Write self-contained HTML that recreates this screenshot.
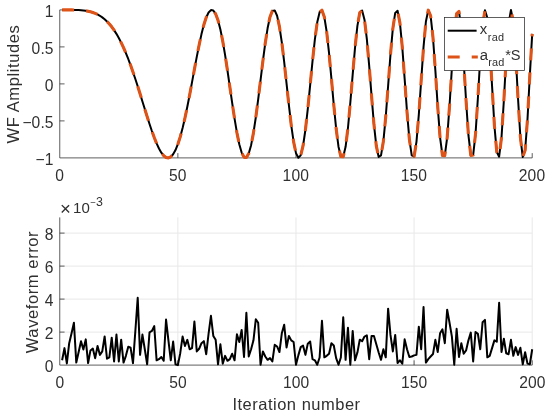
<!DOCTYPE html>
<html><head><meta charset="utf-8"><title>Waveform plot</title>
<style>html,body{margin:0;padding:0;background:#fff;}svg{display:block;}text{font-family:"Liberation Sans", sans-serif;fill:#303030;}</style></head><body>
<svg width="550" height="415" viewBox="0 0 550 415">
<rect x="0" y="0" width="550" height="415" fill="#ffffff"/>
<g stroke="#e8e8e8" stroke-width="1" fill="none"><line x1="177.87" y1="217.40" x2="177.87" y2="365.10"/><line x1="295.98" y1="217.40" x2="295.98" y2="365.10"/><line x1="414.09" y1="217.40" x2="414.09" y2="365.10"/><line x1="532.21" y1="217.40" x2="532.21" y2="365.10"/><line x1="59.75" y1="332.10" x2="532.21" y2="332.10"/><line x1="59.75" y1="299.10" x2="532.21" y2="299.10"/><line x1="59.75" y1="266.10" x2="532.21" y2="266.10"/><line x1="59.75" y1="233.10" x2="532.21" y2="233.10"/></g>
<g stroke="#2a2a2a" stroke-width="0.75" fill="none"><path d="M59.75 9.90 V157.90 H532.21"/><line x1="177.87" y1="157.90" x2="177.87" y2="153.10"/><line x1="295.98" y1="157.90" x2="295.98" y2="153.10"/><line x1="414.09" y1="157.90" x2="414.09" y2="153.10"/><line x1="532.21" y1="157.90" x2="532.21" y2="153.10"/><line x1="59.75" y1="120.90" x2="64.55" y2="120.90"/><line x1="59.75" y1="83.90" x2="64.55" y2="83.90"/><line x1="59.75" y1="46.90" x2="64.55" y2="46.90"/><line x1="59.75" y1="9.90" x2="64.55" y2="9.90"/><path d="M59.75 217.40 V365.10 H532.21"/><line x1="177.87" y1="365.10" x2="177.87" y2="360.30"/><line x1="295.98" y1="365.10" x2="295.98" y2="360.30"/><line x1="414.09" y1="365.10" x2="414.09" y2="360.30"/><line x1="532.21" y1="365.10" x2="532.21" y2="360.30"/><line x1="59.75" y1="332.10" x2="64.55" y2="332.10"/><line x1="59.75" y1="299.10" x2="64.55" y2="299.10"/><line x1="59.75" y1="266.10" x2="64.55" y2="266.10"/><line x1="59.75" y1="233.10" x2="64.55" y2="233.10"/></g>
<polyline points="62.11,9.90 64.47,9.90 66.84,9.90 69.20,9.91 71.56,9.92 73.92,9.96 76.29,10.02 78.65,10.12 81.01,10.27 83.37,10.49 85.74,10.81 88.10,11.22 90.46,11.77 92.82,12.48 95.18,13.36 97.55,14.44 99.91,15.77 102.27,17.35 104.63,19.22 107.00,21.41 109.36,23.94 111.72,26.85 114.08,30.15 116.45,33.86 118.81,38.01 121.17,42.59 123.53,47.62 125.89,53.09 128.26,58.99 130.62,65.30 132.98,71.99 135.34,79.01 137.71,86.30 140.07,93.81 142.43,101.43 144.79,109.08 147.16,116.64 149.52,124.00 151.88,131.01 154.24,137.53 156.60,143.41 158.97,148.50 161.33,152.63 163.69,155.66 166.05,157.45 168.42,157.87 170.78,156.82 173.14,154.21 175.50,150.02 177.87,144.23 180.23,136.89 182.59,128.09 184.95,117.99 187.31,106.78 189.68,94.72 192.04,82.13 194.40,69.37 196.76,56.82 199.13,44.93 201.49,34.12 203.85,24.84 206.21,17.50 208.57,12.48 210.94,10.08 213.30,10.52 215.66,13.94 218.02,20.32 220.39,29.52 222.75,41.26 225.11,55.11 227.47,70.51 229.84,86.77 232.20,103.11 234.56,118.71 236.92,132.69 239.28,144.23 241.65,152.59 244.01,157.16 246.37,157.52 248.73,153.49 251.10,145.15 253.46,132.86 255.82,117.27 258.18,99.28 260.55,80.05 262.91,60.86 265.27,43.07 267.63,28.05 269.99,17.00 272.36,10.90 274.72,10.40 277.08,15.72 279.44,26.63 281.81,42.40 284.17,61.85 286.53,83.41 288.89,105.23 291.26,125.35 293.62,141.86 295.98,153.09 298.34,157.80 300.70,155.34 303.07,145.73 305.43,129.75 307.79,108.86 310.15,85.15 312.52,61.08 314.88,39.29 317.24,22.29 319.60,12.15 321.97,10.24 324.33,17.00 326.69,31.85 329.05,53.20 331.41,78.55 333.78,104.79 336.14,128.55 338.50,146.67 340.86,156.57 343.23,156.69 345.59,146.79 347.95,128.00 350.31,102.78 352.68,74.63 355.04,47.62 357.40,25.83 359.76,12.69 362.12,10.44 364.49,19.67 366.85,39.20 369.21,66.09 371.57,96.10 373.94,124.29 376.30,145.86 378.66,156.95 381.02,155.40 383.39,141.21 385.75,116.64 388.11,85.96 390.47,54.68 392.83,28.66 395.20,12.95 397.56,10.79 399.92,22.88 402.28,47.12 404.65,78.89 407.01,111.89 409.37,139.33 411.73,155.37 414.09,156.38 416.46,141.86 418.82,114.66 421.18,80.51 423.54,46.92 425.91,21.47 428.27,10.15 430.63,15.86 432.99,37.55 435.36,70.39 437.72,106.67 440.08,137.61 442.44,155.49 444.80,155.60 447.17,137.61 449.53,105.78 451.89,68.12 454.25,34.38 456.62,13.57 458.98,11.50 461.34,29.05 463.70,61.74 466.07,100.75 468.43,135.24 470.79,155.34 473.15,155.03 475.51,134.06 477.88,98.26 480.24,58.01 482.60,25.33 484.96,10.26 487.33,17.71 489.69,45.72 492.05,85.84 494.41,125.54 496.78,152.10 499.14,156.71 501.50,137.53 503.86,100.53 506.22,57.80 508.59,23.67 510.95,9.93 513.31,21.60 515.67,55.00 518.04,98.72 520.40,137.37 522.76,157.02 525.12,150.27 527.49,119.22 529.85,74.97 532.21,33.86" fill="none" stroke="#000" stroke-width="2.0" stroke-linejoin="round"/>
<polyline points="62.11,9.90 64.47,9.90 66.84,9.90 69.20,9.91 71.56,9.92 73.92,9.96 76.29,10.02 78.65,10.12 81.01,10.27 83.37,10.49 85.74,10.81 88.10,11.22 90.46,11.77 92.82,12.48 95.18,13.36 97.55,14.44 99.91,15.77 102.27,17.35 104.63,19.22 107.00,21.41 109.36,23.94 111.72,26.85 114.08,30.15 116.45,33.86 118.81,38.01 121.17,42.59 123.53,47.62 125.89,53.09 128.26,58.99 130.62,65.30 132.98,71.99 135.34,79.01 137.71,86.30 140.07,93.81 142.43,101.43 144.79,109.08 147.16,116.64 149.52,124.00 151.88,131.01 154.24,137.53 156.60,143.41 158.97,148.50 161.33,152.63 163.69,155.66 166.05,157.45 168.42,157.87 170.78,156.82 173.14,154.21 175.50,150.02 177.87,144.23 180.23,136.89 182.59,128.09 184.95,117.99 187.31,106.78 189.68,94.72 192.04,82.13 194.40,69.37 196.76,56.82 199.13,44.93 201.49,34.12 203.85,24.84 206.21,17.50 208.57,12.48 210.94,10.08 213.30,10.52 215.66,13.94 218.02,20.32 220.39,29.52 222.75,41.26 225.11,55.11 227.47,70.51 229.84,86.77 232.20,103.11 234.56,118.71 236.92,132.69 239.28,144.23 241.65,152.59 244.01,157.16 246.37,157.52 248.73,153.49 251.10,145.15 253.46,132.86 255.82,117.27 258.18,99.28 260.55,80.05 262.91,60.86 265.27,43.07 267.63,28.05 269.99,17.00 272.36,10.90 274.72,10.40 277.08,15.72 279.44,26.63 281.81,42.40 284.17,61.85 286.53,83.41 288.89,105.23 291.26,125.35 293.62,141.86 295.98,153.09 298.34,157.80 300.70,155.34 303.07,145.73 305.43,129.75 307.79,108.86 310.15,85.15 312.52,61.08 314.88,39.29 317.24,22.29 319.60,12.15 321.97,10.24 324.33,17.00 326.69,31.85 329.05,53.20 331.41,78.55 333.78,104.79 336.14,128.55 338.50,146.67 340.86,156.57 343.23,156.69 345.59,146.79 347.95,128.00 350.31,102.78 352.68,74.63 355.04,47.62 357.40,25.83 359.76,12.69 362.12,10.44 364.49,19.67 366.85,39.20 369.21,66.09 371.57,96.10 373.94,124.29 376.30,145.86 378.66,156.95 381.02,155.40 383.39,141.21 385.75,116.64 388.11,85.96 390.47,54.68 392.83,28.66 395.20,12.95 397.56,10.79 399.92,22.88 402.28,47.12 404.65,78.89 407.01,111.89 409.37,139.33 411.73,155.37 414.09,156.38 416.46,141.86 418.82,114.66 421.18,80.51 423.54,46.92 425.91,21.47 428.27,10.15 430.63,15.86 432.99,37.55 435.36,70.39 437.72,106.67 440.08,137.61 442.44,155.49 444.80,155.60 447.17,137.61 449.53,105.78 451.89,68.12 454.25,34.38 456.62,13.57 458.98,11.50 461.34,29.05 463.70,61.74 466.07,100.75 468.43,135.24 470.79,155.34 473.15,155.03 475.51,134.06 477.88,98.26 480.24,58.01 482.60,25.33 484.96,10.26 487.33,17.71 489.69,45.72 492.05,85.84 494.41,125.54 496.78,152.10 499.14,156.71 501.50,137.53 503.86,100.53 506.22,57.80 508.59,23.67 510.95,9.93 513.31,21.60 515.67,55.00 518.04,98.72 520.40,137.37 522.76,157.02 525.12,150.27 527.49,119.22 529.85,74.97 532.21,33.86" fill="none" stroke="#de5418" stroke-width="3.1" stroke-dasharray="12.02 12.02" stroke-linejoin="round"/>
<polyline points="62.11,360.31 64.47,348.11 66.84,363.45 69.20,343.16 71.56,333.25 73.92,322.70 76.29,362.62 78.65,352.06 81.01,341.18 83.37,349.59 85.74,339.36 88.10,363.12 90.46,350.42 92.82,348.60 95.18,358.17 97.55,345.96 99.91,354.87 102.27,351.41 104.63,336.39 107.00,358.67 109.36,357.35 111.72,337.71 114.08,361.47 116.45,334.58 118.81,361.47 121.17,339.69 123.53,362.62 125.89,355.86 128.26,346.79 130.62,347.78 132.98,363.12 135.34,331.28 137.71,297.78 140.07,354.87 142.43,334.58 144.79,349.26 147.16,364.28 149.52,332.27 151.88,330.95 154.24,326.16 156.60,360.31 158.97,359.16 161.33,357.02 163.69,360.81 166.05,319.56 168.42,340.35 170.78,360.31 173.14,341.50 175.50,364.28 177.87,365.10 180.23,353.22 182.59,336.56 184.95,345.96 187.31,339.86 189.68,349.26 192.04,348.11 194.40,321.54 196.76,351.41 199.13,348.77 201.49,343.16 203.85,341.18 206.21,354.21 208.57,333.75 210.94,315.77 213.30,335.90 215.66,339.86 218.02,364.28 220.39,344.31 222.75,363.62 225.11,355.86 227.47,360.81 229.84,359.16 232.20,353.72 234.56,360.31 236.92,334.25 239.28,342.00 241.65,329.96 244.01,357.02 246.37,312.80 248.73,356.52 251.10,349.26 253.46,340.35 255.82,319.23 258.18,322.70 260.55,364.77 262.91,351.41 265.27,356.52 267.63,359.82 269.99,358.17 272.36,361.47 274.72,344.81 277.08,346.46 279.44,352.06 281.81,333.25 284.17,324.68 286.53,347.45 288.89,335.90 291.26,340.35 293.62,342.00 295.98,364.77 298.34,355.37 300.70,347.12 303.07,345.63 305.43,354.87 307.79,343.65 310.15,341.50 312.52,359.16 314.88,360.31 317.24,364.77 319.60,357.51 321.97,320.72 324.33,357.35 326.69,355.86 329.05,353.72 331.41,343.16 333.78,345.47 336.14,358.17 338.50,364.77 340.86,357.51 343.23,317.25 345.59,359.82 347.95,327.81 350.31,364.77 352.68,330.95 355.04,360.31 357.40,352.56 359.76,339.69 362.12,341.18 364.49,336.56 366.85,335.40 369.21,359.16 371.57,335.90 373.94,335.90 376.30,344.31 378.66,352.56 381.02,359.82 383.39,349.26 385.75,357.35 388.11,308.67 390.47,334.91 392.83,351.41 395.20,334.91 397.56,362.96 399.92,360.31 402.28,363.78 404.65,339.36 407.01,349.26 409.37,357.02 411.73,356.52 414.09,355.37 416.46,354.87 418.82,326.66 421.18,349.26 423.54,307.02 425.91,362.62 428.27,359.16 430.63,356.52 432.99,354.05 435.36,339.86 437.72,352.06 440.08,333.25 442.44,329.30 444.80,343.16 447.17,309.66 449.53,322.70 451.89,336.56 454.25,364.77 456.62,328.80 458.98,357.02 461.34,343.16 463.70,353.72 466.07,350.42 468.43,340.35 470.79,332.60 473.15,361.47 475.51,331.94 477.88,333.75 480.24,349.26 482.60,322.20 484.96,319.89 487.33,357.35 489.69,355.86 492.05,348.11 494.41,340.35 496.78,341.67 499.14,302.73 501.50,352.06 503.86,338.70 506.22,353.22 508.59,354.21 510.95,339.86 513.31,355.86 515.67,347.12 518.04,354.87 520.40,347.78 522.76,364.28 525.12,352.23 527.49,363.62 529.85,364.28 532.21,349.26" fill="none" stroke="#000" stroke-width="2.0" stroke-linejoin="round"/>
<g font-size="15.60" letter-spacing="0.1"><text x="59.55" y="180.5" text-anchor="middle">0</text><text x="59.85" y="387.9" text-anchor="middle">0</text><text x="177.67" y="180.5" text-anchor="middle">50</text><text x="177.97" y="387.9" text-anchor="middle">50</text><text x="295.78" y="180.5" text-anchor="middle">100</text><text x="296.08" y="387.9" text-anchor="middle">100</text><text x="413.89" y="180.5" text-anchor="middle">150</text><text x="414.19" y="387.9" text-anchor="middle">150</text><text x="532.01" y="180.5" text-anchor="middle">200</text><text x="532.31" y="387.9" text-anchor="middle">200</text><text x="53.6" y="17.00" text-anchor="end">1</text><text x="53.6" y="54.00" text-anchor="end">0.5</text><text x="53.6" y="91.00" text-anchor="end">0</text><text x="53.6" y="128.00" text-anchor="end">−0.5</text><text x="53.6" y="165.00" text-anchor="end">−1</text><text x="53.6" y="372.20" text-anchor="end">0</text><text x="53.6" y="339.20" text-anchor="end">2</text><text x="53.6" y="306.20" text-anchor="end">4</text><text x="53.6" y="273.20" text-anchor="end">6</text><text x="53.6" y="240.20" text-anchor="end">8</text></g>
<text x="60.0" y="215.4" font-size="18.6" fill="#444">×</text>
<text x="73.1" y="212.7" font-size="15.0">10</text>
<text x="90.3" y="205.7" font-size="9.6">−</text>
<text x="96.0" y="205.9" font-size="12.4">3</text>
<text x="296.5" y="410" text-anchor="middle" font-size="16.50" letter-spacing="0.5">Iteration number</text>
<text transform="translate(19.0,84) rotate(-90)" text-anchor="middle" font-size="16.50" letter-spacing="0.6">WF Amplitudes</text>
<text transform="translate(37.8,292) rotate(-90)" text-anchor="middle" font-size="16.50" letter-spacing="0.6">Waveform error</text>
<rect x="444.5" y="17.5" width="80" height="53" fill="#fff" stroke="#2a2a2a" stroke-width="0.75"/>
<line x1="447.7" y1="30.7" x2="476.6" y2="30.7" stroke="#000" stroke-width="2.0"/>
<line x1="447.7" y1="56.9" x2="477.8" y2="56.9" stroke="#de5418" stroke-width="3.0" stroke-dasharray="12 12"/>
<text x="479.7" y="33.8" font-size="14.9">x<tspan dx="0.6" dy="7" font-size="10.9" letter-spacing="0.3">rad</tspan></text>
<text x="479.7" y="59.8" font-size="14.9">a<tspan dx="0.2" dy="6.6" font-size="10.9" letter-spacing="0.2">rad</tspan><tspan dx="0.6" dy="-6.6" font-size="14.6">*S</tspan></text>
</svg></body></html>
